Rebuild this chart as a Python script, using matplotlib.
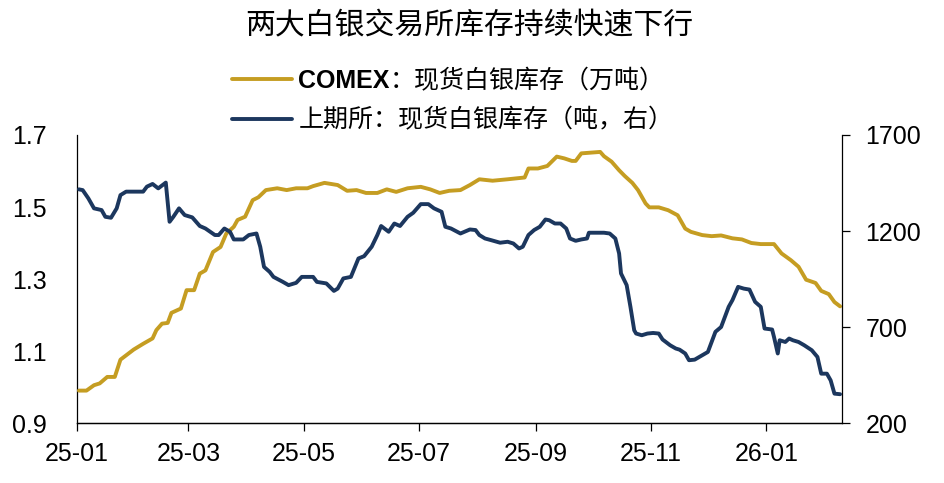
import matplotlib
matplotlib.use("Agg")
import matplotlib.pyplot as plt
from matplotlib.text import Annotation
import pandas as pd

plt.rcParams['font.family'] = ['Liberation Sans', 'Noto Sans CJK SC', 'DejaVu Sans']

title = "两大白银交易所库存持续快速下行"
label_comex_bold = "COMEX"
label_comex_rest = "：现货白银库存（万吨）"
label_shfe = "上期所：现货白银库存（吨，右）"

comex_dates = [
    "2025-01-02", "2025-01-06", "2025-01-10", "2025-01-13", "2025-01-17", "2025-01-21",
    "2025-01-24", "2025-01-27", "2025-01-31", "2025-02-05", "2025-02-10", "2025-02-12",
    "2025-02-15", "2025-02-18", "2025-02-20", "2025-02-25", "2025-02-28", "2025-03-04",
    "2025-03-07", "2025-03-10", "2025-03-14", "2025-03-18", "2025-03-21", "2025-03-25",
    "2025-03-27", "2025-03-31", "2025-04-04", "2025-04-07", "2025-04-11", "2025-04-17",
    "2025-04-22", "2025-04-27", "2025-05-03", "2025-05-06", "2025-05-12", "2025-05-19",
    "2025-05-24", "2025-05-29", "2025-06-03", "2025-06-09", "2025-06-14", "2025-06-19",
    "2025-06-25", "2025-07-02", "2025-07-07", "2025-07-12", "2025-07-17", "2025-07-23",
    "2025-07-28", "2025-08-02", "2025-08-09", "2025-08-17", "2025-08-26", "2025-08-28",
    "2025-09-02", "2025-09-07", "2025-09-12", "2025-09-16", "2025-09-20", "2025-09-22",
    "2025-09-25", "2025-09-30", "2025-10-05", "2025-10-07", "2025-10-11", "2025-10-15",
    "2025-10-18", "2025-10-22", "2025-10-25", "2025-10-29", "2025-10-31", "2025-11-05",
    "2025-11-10", "2025-11-15", "2025-11-19", "2025-11-22", "2025-11-28", "2025-12-03",
    "2025-12-08", "2025-12-14", "2025-12-19", "2025-12-24", "2025-12-29", "2026-01-05",
    "2026-01-09", "2026-01-14", "2026-01-18", "2026-01-22", "2026-01-27", "2026-01-30",
    "2026-02-03", "2026-02-06", "2026-02-09",
]
comex_values = [
    0.99, 0.99, 1.005, 1.01, 1.028, 1.028,
    1.076, 1.088, 1.104, 1.12, 1.135, 1.158,
    1.176, 1.178, 1.206, 1.218, 1.269, 1.269,
    1.315, 1.324, 1.375, 1.389, 1.426, 1.445,
    1.464, 1.473, 1.519, 1.527, 1.547, 1.552,
    1.547, 1.552, 1.552, 1.558, 1.567, 1.561,
    1.545, 1.547, 1.539, 1.539, 1.549, 1.542,
    1.552, 1.556, 1.549, 1.539, 1.545, 1.547,
    1.561, 1.577, 1.573, 1.577, 1.582, 1.607,
    1.607, 1.614, 1.640, 1.635, 1.628, 1.628,
    1.649, 1.651, 1.653, 1.641, 1.626, 1.602,
    1.586, 1.567, 1.547, 1.51, 1.499, 1.499,
    1.491, 1.477, 1.440, 1.431, 1.422, 1.419,
    1.421, 1.413, 1.41, 1.40, 1.397, 1.397,
    1.371, 1.352, 1.334, 1.298, 1.289, 1.267,
    1.258, 1.236, 1.224,
]

shfe_dates = [
    "2025-01-02", "2025-01-04", "2025-01-07", "2025-01-10", "2025-01-14", "2025-01-16",
    "2025-01-19", "2025-01-22", "2025-01-24", "2025-01-27", "2025-02-05", "2025-02-07",
    "2025-02-10", "2025-02-13", "2025-02-17", "2025-02-19", "2025-02-21", "2025-02-24",
    "2025-02-27", "2025-03-03", "2025-03-07", "2025-03-10", "2025-03-15", "2025-03-17",
    "2025-03-20", "2025-03-23", "2025-03-25", "2025-03-30", "2025-04-02", "2025-04-06",
    "2025-04-08", "2025-04-10", "2025-04-13", "2025-04-15", "2025-04-20", "2025-04-23",
    "2025-04-27", "2025-04-30", "2025-05-06", "2025-05-08", "2025-05-13", "2025-05-17",
    "2025-05-19", "2025-05-22", "2025-05-26", "2025-05-30", "2025-06-02", "2025-06-06",
    "2025-06-09", "2025-06-11", "2025-06-15", "2025-06-18", "2025-06-21", "2025-06-25",
    "2025-06-28", "2025-07-02", "2025-07-06", "2025-07-09", "2025-07-13", "2025-07-15",
    "2025-07-18", "2025-07-23", "2025-07-28", "2025-07-31", "2025-08-02", "2025-08-05",
    "2025-08-08", "2025-08-13", "2025-08-17", "2025-08-20", "2025-08-23", "2025-08-25",
    "2025-08-28", "2025-08-31", "2025-09-03", "2025-09-06", "2025-09-08", "2025-09-11",
    "2025-09-14", "2025-09-17", "2025-09-19", "2025-09-22", "2025-09-25", "2025-09-28",
    "2025-09-29", "2025-10-07", "2025-10-10", "2025-10-13", "2025-10-15", "2025-10-16",
    "2025-10-19", "2025-10-21", "2025-10-23", "2025-10-24", "2025-10-27", "2025-10-30",
    "2025-11-02", "2025-11-05", "2025-11-07", "2025-11-11", "2025-11-14", "2025-11-16",
    "2025-11-19", "2025-11-21", "2025-11-24", "2025-11-28", "2025-12-01", "2025-12-05",
    "2025-12-08", "2025-12-12", "2025-12-14", "2025-12-17", "2025-12-20", "2025-12-23",
    "2025-12-26", "2025-12-29", "2025-12-31", "2026-01-04", "2026-01-05", "2026-01-07",
    "2026-01-08", "2026-01-11", "2026-01-13", "2026-01-15", "2026-01-18", "2026-01-21",
    "2026-01-25", "2026-01-28", "2026-01-30", "2026-02-02", "2026-02-04", "2026-02-06",
    "2026-02-09",
]
shfe_values = [
    1417, 1413, 1370, 1318, 1309, 1274,
    1269, 1318, 1387, 1405, 1405, 1431,
    1445, 1422, 1452, 1248, 1274, 1318,
    1283, 1271, 1226, 1213, 1179, 1179,
    1213, 1196, 1156, 1156, 1179, 1187,
    1118, 1013, 987, 961, 935, 918,
    930, 961, 961, 935, 927, 888,
    900, 953, 961, 1057, 1069, 1118,
    1179, 1226, 1196, 1239, 1226, 1274,
    1295, 1340, 1340, 1318, 1300, 1222,
    1213, 1187, 1208, 1205, 1179, 1161,
    1153, 1139, 1144, 1135, 1109, 1118,
    1179, 1205, 1222, 1260, 1256, 1239,
    1239, 1213, 1161, 1149, 1156, 1161,
    1191, 1191, 1187, 1161, 1083, 979,
    918, 805, 683, 666, 657, 666,
    669, 666, 635, 605, 588, 582,
    562, 527, 530, 553, 570, 675,
    700, 805, 840, 909, 900, 895,
    831, 805, 692, 687, 648, 562,
    631, 622, 640, 631, 622, 605,
    579, 544, 457, 457, 422, 353,
    350,
]

left_ticks = [0.9, 1.1, 1.3, 1.5, 1.7]
left_ticklabels = ["0.9", "1.1", "1.3", "1.5", "1.7"]
right_ticks = [200, 700, 1200, 1700]
right_ticklabels = ["200", "700", "1200", "1700"]
x_ticks = ["2025-01-01", "2025-03-01", "2025-05-01", "2025-07-01", "2025-09-01", "2025-11-01", "2026-01-01"]
x_ticklabels = ["25-01", "25-03", "25-05", "25-07", "25-09", "25-11", "26-01"]

gold = "#C59D22"
navy = "#1C375E"

fig = plt.figure(figsize=(9.45, 4.83), dpi=100)
ax = fig.add_axes([0.0815, 0.1242, 0.8095, 0.5963])
ax2 = ax.twinx()

l1, = ax.plot(pd.to_datetime(comex_dates), comex_values, color=gold, lw=2.8,
              solid_joinstyle='round', solid_capstyle='round', zorder=3)
l2, = ax2.plot(pd.to_datetime(shfe_dates), shfe_values, color=navy, lw=2.8,
               solid_joinstyle='round', solid_capstyle='round', zorder=3)

ax.set_ylim(0.9, 1.7)
ax2.set_ylim(200, 1700)
ax.set_xlim(pd.Timestamp("2025-01-01"), pd.Timestamp("2026-02-10"))

ax.set_yticks(left_ticks)
ax.set_yticklabels(left_ticklabels)
ax2.set_yticks(right_ticks)
ax2.set_yticklabels(right_ticklabels)
ax.set_xticks(pd.to_datetime(x_ticks))
ax.set_xticklabels(x_ticklabels)

for a in (ax, ax2):
    a.spines['top'].set_visible(False)
    for s in a.spines.values():
        s.set_linewidth(0.9)
        s.set_color('black')
ax2.spines['left'].set_visible(False)
ax.spines['right'].set_visible(False)

ax.tick_params(axis='y', length=0, pad=22, labelsize=18)
ax.tick_params(axis='x', direction='out', length=6, width=0.9, pad=8, labelsize=18)
ax2.tick_params(axis='y', direction='out', length=6, width=0.9, pad=11, labelsize=18)

fig.text(0.497, 0.947, title, ha='center', va='center', fontsize=21.5,
         family=['Noto Sans CJK SC', 'DejaVu Sans'])

leg = fig.legend([l1, l2], [label_comex_bold, label_shfe], loc='upper left',
                 bbox_to_anchor=(0.243, 0.862), frameon=False, fontsize=18,
                 handlelength=2.4, handletextpad=0.25, labelspacing=0.6,
                 borderpad=0.1, borderaxespad=0)
leg.get_texts()[0].set_fontweight('bold')

fig.canvas.draw()
ann = Annotation(label_comex_rest, xy=(1, 0), xycoords=leg.get_texts()[0],
                 ha='left', va='bottom', fontsize=18, annotation_clip=False)
ann.set_zorder(10)
fig.add_artist(ann)

fig.savefig("out.png", dpi=100)
